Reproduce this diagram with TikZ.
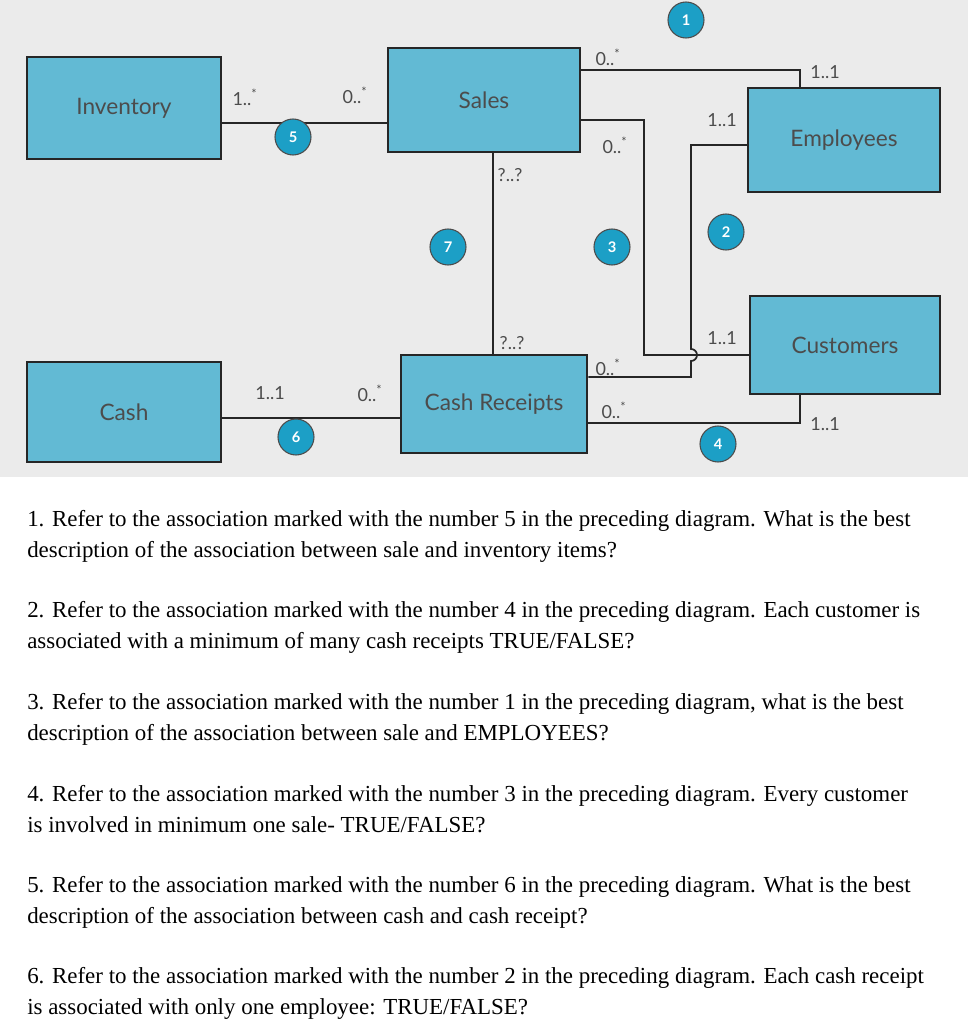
\documentclass[tikz,border=0pt]{standalone}
\usepackage{fontspec}
\setmainfont{Liberation Serif}
\newfontfamily\diag{Lato}
\begin{document}
\begin{tikzpicture}[x=0.75pt,y=-0.75pt,
 ent/.style={draw=black!85,line width=1.6pt,fill=boxc,inner sep=0pt,font=\diag\fontsize{17}{19}\selectfont,text=black!70},
 lnk/.style={draw=black!85,line width=1.3pt},
 mult/.style={font=\diag\fontsize{13.5}{15}\selectfont,text=black!70,inner sep=1pt},
 num/.style={circle,draw=black!70,line width=0.8pt,fill=numc,text=white,minimum size=27pt,inner sep=0pt,font=\diag\bfseries\fontsize{11}{12}\selectfont},
 q/.style={anchor=base west,inner sep=0pt,font=\fontsize{17.2}{20}\selectfont}]
\definecolor{boxc}{HTML}{62BAD4}
\definecolor{numc}{HTML}{1C9FC6}
\useasboundingbox (0,0) rectangle (968,1024);
\fill[white] (0,0) rectangle (968,1024);
\fill[black!8] (0,0) rectangle (968,477);
% entities
\node[ent,minimum width=146pt,minimum height=77pt] (inv) at (124,108) {Inventory};
\node[ent,minimum width=144pt,minimum height=78pt] (sal) at (484,100) {Sales};
\node[ent,minimum width=144pt,minimum height=78pt] (emp) at (844,140) {Employees};
\node[ent,minimum width=143pt,minimum height=73pt] (cus) at (845,345) {Customers};
\node[ent,minimum width=140pt,minimum height=73pt] (cr) at (494,404) {Cash Receipts};
\node[ent,minimum width=146pt,minimum height=75pt] (cash) at (124,412) {Cash};
% connectors
\draw[lnk] (inv.east |- 0,123) -- (sal.west |- 0,123);
\draw[lnk] (sal.east |- 0,70) -- (800,70) -- (800,0 |- emp.north);
\draw[lnk] (sal.east |- 0,120) -- (644,120) -- (644,355) -- (cus.west |- 0,355);
\draw[lnk] (emp.west |- 0,145) -- (691,145) -- (691,349) arc[start angle=-90,end angle=90,radius=6] -- (691,377) -- (cr.east |- 0,377);
\draw[lnk] (493,0 |- sal.south) -- (493,0 |- cr.north);
\draw[lnk] (cr.east |- 0,423) -- (800,423) -- (800,0 |- cus.south);
\draw[lnk] (cash.east |- 0,418) -- (cr.west |- 0,418);
% multiplicities
\node[mult] (m1) at (245,97) {1..\textsuperscript{*}};
\node[mult] (m2) at (355,95) {0..\textsuperscript{*}};
\node[mult] (m3) at (608,57) {0..\textsuperscript{*}};
\node[mult] (m4) at (825,72) {1..1};
\node[mult] (m5) at (722,120) {1..1};
\node[mult] (m6) at (615,145) {0..\textsuperscript{*}};
\node[mult] (m7) at (510,175) {?..?};
\node[mult] (m8) at (512,343) {?..?};
\node[mult] (m9) at (722,338) {1..1};
\node[mult] (m10) at (608,367) {0..\textsuperscript{*}};
\node[mult] (m11) at (614,410) {0..\textsuperscript{*}};
\node[mult] (m12) at (825,424) {1..1};
\node[mult] (m13) at (270,393) {1..1};
\node[mult] (m14) at (370,393) {0..\textsuperscript{*}};
% numbers
\node[num] (n1) at (686,20) {1};
\node[num] (n5) at (293,137) {5};
\node[num] (n7) at (448,247) {7};
\node[num] (n3) at (612,247) {3};
\node[num] (n2) at (726,232) {2};
\node[num] (n6) at (296,437) {6};
\node[num] (n4) at (718,444) {4};
% questions
\node[q] (q1a) at (27,526) {1. Refer to the association marked with the number 5 in the preceding diagram. What is the best};
\node[q] (q1b) at (27,557) {description of the association between sale and inventory items?};
\node[q] (q2a) at (27,617) {2. Refer to the association marked with the number 4 in the preceding diagram. Each customer is};
\node[q] (q2b) at (27,648) {associated with a minimum of many cash receipts TRUE/FALSE?};
\node[q] (q3a) at (27,709) {3. Refer to the association marked with the number 1 in the preceding diagram, what is the best};
\node[q] (q3b) at (27,740) {description of the association between sale and EMPLOYEES?};
\node[q] (q4a) at (27,801) {4. Refer to the association marked with the number 3 in the preceding diagram. Every customer};
\node[q] (q4b) at (27,832) {is involved in minimum one sale- TRUE/FALSE?};
\node[q] (q5a) at (27,892) {5. Refer to the association marked with the number 6 in the preceding diagram. What is the best};
\node[q] (q5b) at (27,923) {description of the association between cash and cash receipt?};
\node[q] (q6a) at (27,983) {6. Refer to the association marked with the number 2 in the preceding diagram. Each cash receipt};
\node[q] (q6b) at (27,1014) {is associated with only one employee: TRUE/FALSE?};
\end{tikzpicture}
\end{document}
